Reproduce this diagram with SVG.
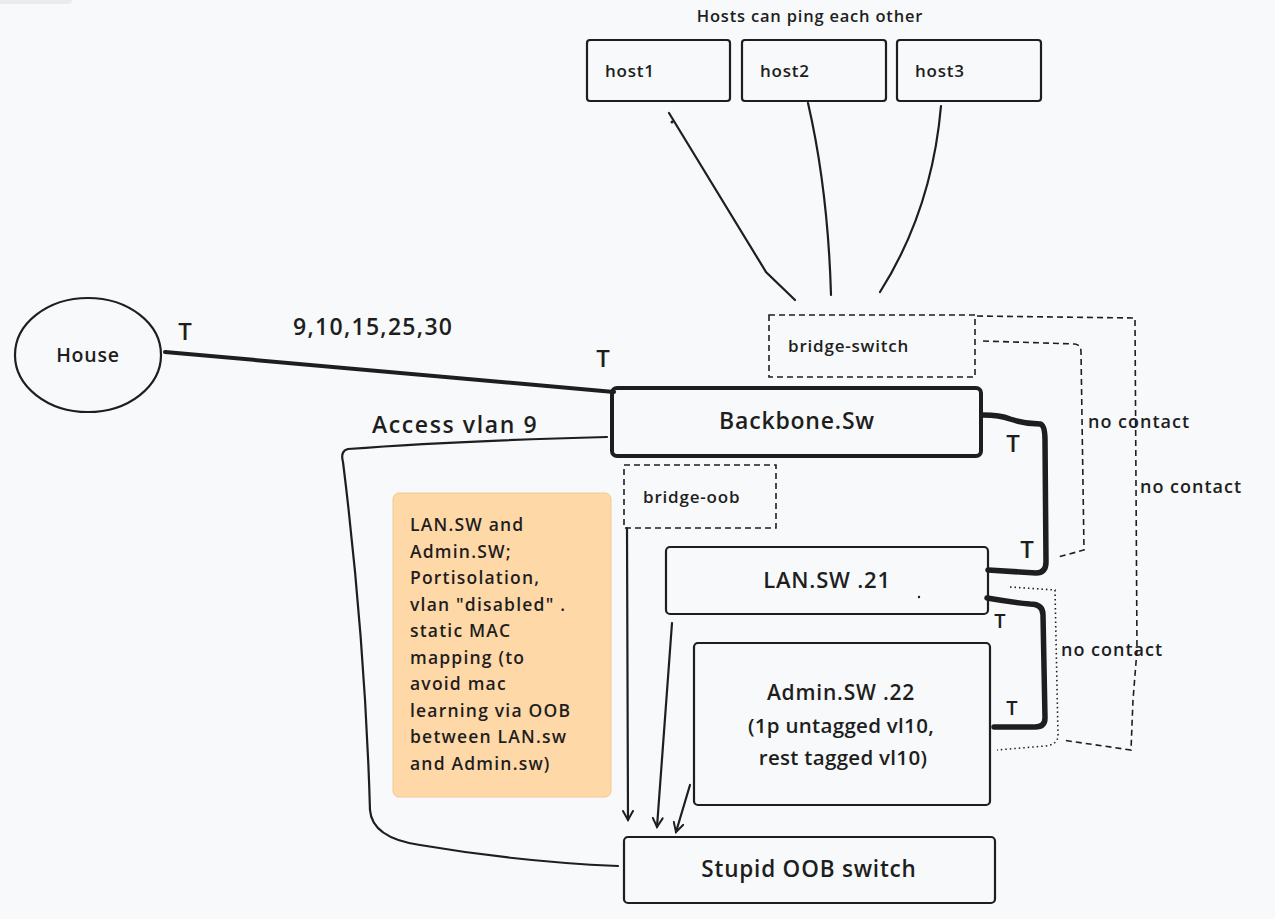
<svg xmlns="http://www.w3.org/2000/svg" width="1275" height="919" viewBox="0 0 1275 919">
<style>
text{font-family:"Open Sans","Liberation Sans",sans-serif;fill:#1e1e1e;font-weight:600;letter-spacing:0.8px}
.box{fill:none;stroke:#1e1e1e;stroke-width:2.2}
.bold{fill:none;stroke:#1e1e1e;stroke-width:4}
.dash{fill:none;stroke:#1e1e1e;stroke-width:1.6;stroke-dasharray:6 4}
.dot{fill:none;stroke:#1e1e1e;stroke-width:1.6;stroke-dasharray:1.5 3}
.line{fill:none;stroke:#1e1e1e;stroke-width:2.2;stroke-linecap:round}
.thick{fill:none;stroke:#1e1e1e;stroke-width:5.5;stroke-linecap:round;stroke-linejoin:round}
.t{font-size:24px;letter-spacing:0}
.nc{font-size:17px}
.nc2{font-size:18px;letter-spacing:1px}
.note{font-size:17.5px;letter-spacing:1.2px}
</style>
<defs>
<marker id="ah" viewBox="0 0 12 12" refX="10" refY="6" markerWidth="12" markerHeight="12" markerUnits="userSpaceOnUse" orient="auto">
<path d="M1 1 L10 6 L1 11" fill="none" stroke="#1e1e1e" stroke-width="2" stroke-linecap="round"/>
</marker>
</defs>
<rect width="1275" height="919" fill="#f8f9fa"/>
<rect x="-6" y="-6" width="78" height="10" rx="4" fill="#e9ecef"/>

<text x="810" y="22" text-anchor="middle" font-size="16.5">Hosts can ping each other</text>

<g id="connectors">
  <path class="line" d="M669 113 L766 272 L795 300"/>
  <circle cx="672" cy="122" r="1.5" fill="#1e1e1e"/>
  <path class="line" d="M808 103 Q828 190 831 295"/>
  <path class="line" d="M941 106 Q932 210 880 292"/>
  <path class="bold" stroke-linecap="round" d="M165 352 Q400 372 614 392"/>
  <path class="line" stroke-width="3.4" d="M607 437 Q450 441 348 449 Q340 451 343 462 Q365 640 370 810 Q372 838 420 845 Q520 862 618 866"/>
  <path class="thick" d="M983 415 Q1000 415 1010 419 Q1025 424 1040 424 Q1045 425 1045 440 L1046 562 Q1046 573 1036 573 L988 570"/>
  <path class="thick" d="M987 598 Q1010 602 1030 604 Q1043 604 1043 615 L1045 718 Q1045 727 1035 727 L994 727"/>
  <path class="dash" d="M983 341 L1075 344 Q1081 345 1081 352 L1084 550 L1058 557"/>
  <path class="dash" d="M977 316 L1135 318 L1137 650 L1133 700 L1131 750 L1062 740"/>
  <path class="dot" d="M1010 587 L1055 590 L1058 735 Q1058 745 1045 746 L997 750"/>
  <path class="line" d="M627 528 L628 820" marker-end="url(#ah)"/>
  <path class="line" d="M672 623 L657 827" marker-end="url(#ah)"/>
  <path class="line" d="M690 785 L676 832" marker-end="url(#ah)"/>
</g>

<g id="labels">
  <text class="t" x="185" y="340" text-anchor="middle">T</text>
  <text x="293" y="335" font-size="23" style="letter-spacing:1.3px">9,10,15,25,30</text>
  <text class="t" x="603" y="367" text-anchor="middle">T</text>
  <text x="372" y="433" font-size="23" style="letter-spacing:1.6px">Access vlan 9</text>
  <text class="t" x="1013" y="452" text-anchor="middle">T</text>
  <text class="t" x="1027" y="558" text-anchor="middle">T</text>
  <text x="1000" y="628" text-anchor="middle" font-size="20" style="letter-spacing:0">T</text>
  <text x="1012" y="715" text-anchor="middle" font-size="20" style="letter-spacing:0">T</text>
  <text class="nc2" x="1088" y="428">no contact</text>
  <text class="nc2" x="1140" y="493">no contact</text>
  <text class="nc2" x="1061" y="656">no contact</text>
</g>

<g id="host1"><rect class="box" x="587" y="40" width="143" height="61" rx="3"/><text class="nc" x="605" y="77">host1</text></g>
<g id="host2"><rect class="box" x="742" y="40" width="144" height="61" rx="3"/><text class="nc" x="760" y="77">host2</text></g>
<g id="host3"><rect class="box" x="897" y="40" width="144" height="61" rx="3"/><text class="nc" x="915" y="77">host3</text></g>

<g id="house"><ellipse cx="88" cy="355" rx="73" ry="57" fill="none" stroke="#1e1e1e" stroke-width="2.2"/><text x="88" y="362" text-anchor="middle" font-size="19.5">House</text></g>

<g id="bridge-switch"><rect class="dash" x="769" y="315" width="206" height="62"/><text class="nc" x="788" y="352">bridge-switch</text></g>

<g id="backbone"><rect class="bold" x="612" y="388" width="369" height="68" rx="5"/><text x="797" y="429" text-anchor="middle" font-size="23">Backbone.Sw</text></g>

<g id="bridge-oob"><rect class="dash" x="624" y="465" width="152" height="63"/><text class="nc" x="643" y="503">bridge-oob</text></g>

<g id="note">
  <rect x="393" y="493" width="218" height="304" rx="6" fill="#ffd8a8" stroke="#f2c894" stroke-width="1"/>
  <text class="note" x="410" y="531">
    <tspan x="410" y="531">LAN.SW and</tspan>
    <tspan x="410" y="557.5">Admin.SW;</tspan>
    <tspan x="410" y="584">Portisolation,</tspan>
    <tspan x="410" y="610.5">vlan "disabled" .</tspan>
    <tspan x="410" y="637">static MAC</tspan>
    <tspan x="410" y="663.5">mapping (to</tspan>
    <tspan x="410" y="690">avoid mac</tspan>
    <tspan x="410" y="716.5">learning via OOB</tspan>
    <tspan x="410" y="743">between LAN.sw</tspan>
    <tspan x="410" y="769.5">and Admin.sw)</tspan>
  </text>
</g>

<g id="lan-sw"><rect class="box" stroke-width="3" x="666" y="547" width="322" height="67" rx="4"/><text x="827" y="588" text-anchor="middle" font-size="22">LAN.SW .21</text><circle cx="919" cy="597" r="1.2" fill="#1e1e1e"/></g>

<g id="admin-sw"><rect class="box" stroke-width="3" x="694" y="643" width="296" height="162" rx="4"/>
  <text x="841" y="700" text-anchor="middle" font-size="21">Admin.SW .22</text>
  <text x="841" y="733" text-anchor="middle" font-size="20.5" style="letter-spacing:0.3px">(1p untagged vl10,</text>
  <text x="843" y="765" text-anchor="middle" font-size="20.5" style="letter-spacing:0.3px">rest tagged vl10)</text>
</g>

<g id="oob-switch"><rect class="box" stroke-width="3" x="624" y="837" width="371" height="66" rx="4"/><text x="809" y="877" text-anchor="middle" font-size="22.5">Stupid OOB switch</text></g>
</svg>
